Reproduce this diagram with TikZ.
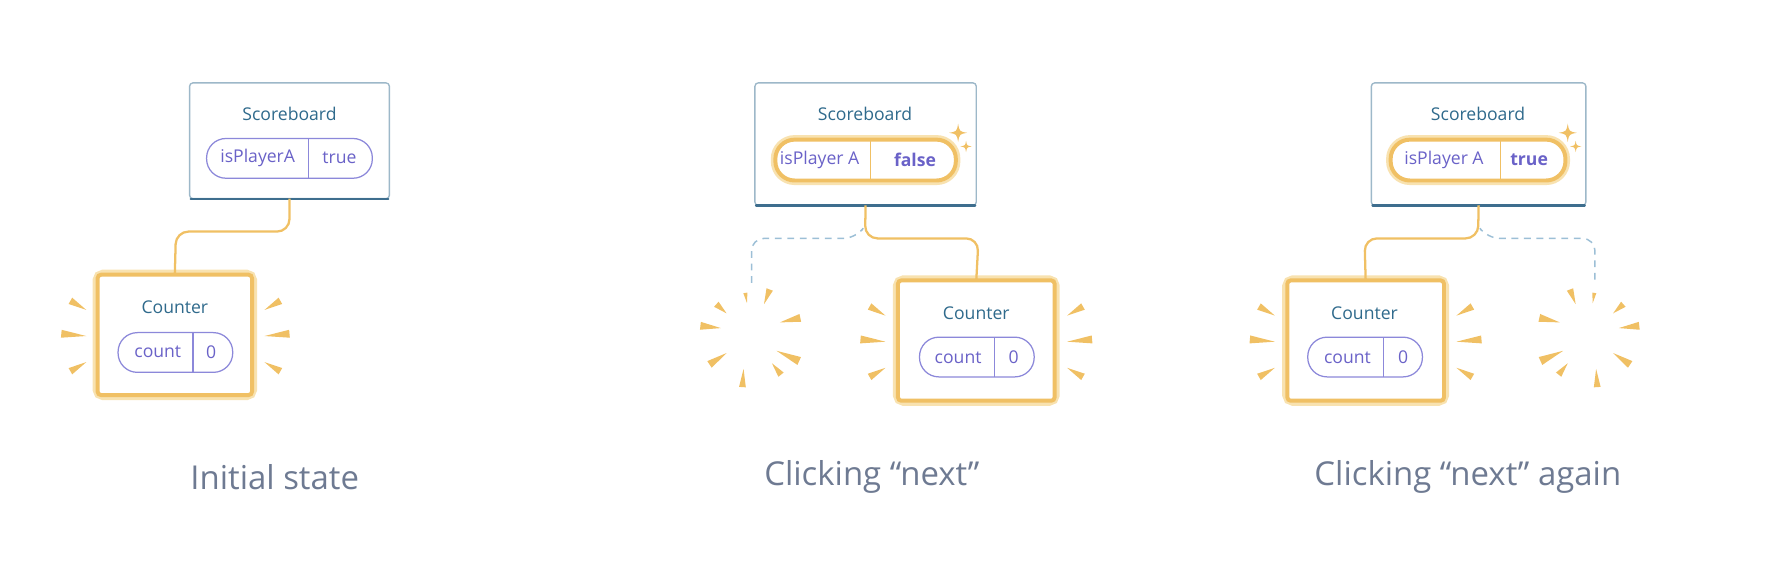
\documentclass[tikz,border=0pt]{standalone}
\usepackage{fontspec}
\usetikzlibrary{calc}
\setmainfont{Open Sans}
\begin{document}
\definecolor{sbblue}{HTML}{2F6A8C}
\definecolor{sbborder}{HTML}{9DB8C9}
\definecolor{sbdark}{HTML}{3E6E8E}
\definecolor{pilltxt}{HTML}{6A62C8}
\definecolor{pillbd}{HTML}{8C88DA}
\definecolor{org}{HTML}{F0C064}
\definecolor{glow}{HTML}{F8E2B0}
\definecolor{capgrey}{HTML}{6E7A92}
\definecolor{dash}{HTML}{9CBFD6}
\begin{tikzpicture}[x=1pt,y=-1pt,
  sbx/.style={draw=sbborder,line width=1.2pt,rounded corners=3pt,fill=white},
  cbx/.style={draw=org,line width=3.5pt,rounded corners=3pt,fill=white},
  title/.style={text=sbblue,font=\fontsize{15.5}{18}\selectfont},
  ptxt/.style={text=pilltxt,font=\fontsize{15.5}{18}\selectfont},
  pbold/.style={text=pilltxt,font=\bfseries\fontsize{15.5}{18}\selectfont},
  captxt/.style={text=capgrey,font=\fontsize{29}{34}\selectfont},
  conn/.style={draw=org,line width=2pt,rounded corners=11pt},
  dconn/.style={draw=dash,line width=1.3pt,dash pattern=on 6pt off 5pt,rounded corners=11pt}]
\useasboundingbox (0,0) rectangle (1568,504);
\newcommand{\mysb}[5]{%
  \draw[sbx] (#2,#3) rectangle (#4,#5);
  \draw[sbdark,line width=2pt,line cap=round] (#2+1,#5) -- (#4-1,#5);
  \coordinate (#1) at ({(#2+#4)/2},#5);}
\newcommand{\mycb}[5]{%
  \draw[glow,line width=9pt,rounded corners=5pt] (#2,#3) rectangle (#4,#5);
  \draw[cbx] (#2,#3) rectangle (#4,#5);
  \coordinate (#1) at ({(#2+#4)/2},#3);}
\newcommand{\mypill}[6]{%
  \ifnum#6=1
   \draw[glow,line width=8pt,rounded corners=17pt] (#1,#2) rectangle (#3,#4);
   \draw[org,line width=3.5pt,fill=white,rounded corners=17pt] (#1,#2) rectangle (#3,#4);
   \draw[org,line width=1.2pt] (#5,#2) -- (#5,#4);
  \else
   \draw[pillbd,line width=1.1pt,fill=white,rounded corners=17pt] (#1,#2) rectangle (#3,#4);
   \draw[pillbd,line width=1.1pt] (#5,#2) -- (#5,#4);
  \fi}
\newcommand{\rr}[5]{%
  \fill[org] (#1,#2) -- ($(#3,#4)!#5pt!90:(#1,#2)$) -- ($(#3,#4)!#5pt!-90:(#1,#2)$) -- cycle;}
\newcommand{\sparkle}[3]{%
  \begin{scope}[shift={(#1,#2)},scale=#3]
  \fill[org] (0,-1) .. controls (0.15,-0.15) .. (1,0) .. controls (0.15,0.15) .. (0,1) .. controls (-0.15,0.15) .. (-1,0) .. controls (-0.15,-0.15) .. (0,-1) -- cycle;
  \end{scope}}
\newcommand{\sideRays}[3]{%
  \rr{#1}{#3-22}{#1-14}{#3-30}{3.2}
  \rr{#1}{#3+1}{#1-22}{#3-1}{3.5}
  \rr{#1}{#3+24}{#1-14}{#3+32}{3.2}
  \rr{#2}{#3-22}{#2+14}{#3-30}{3.2}
  \rr{#2}{#3+1}{#2+22}{#3-1}{3.5}
  \rr{#2}{#3+24}{#2+14}{#3+32}{3.2}}
\newcommand{\burst}{%
  \rr{-3}{-32}{-4.4}{-41}{1.8}
  \rr{12}{-31}{17}{-44}{3}
  \rr{-21}{-23}{-30}{-31}{3}
  \rr{-26}{-10}{-44}{-12}{3.5}
  \rr{26}{-15}{44}{-19}{3.5}
  \rr{-21}{12}{-36}{22}{3.5}
  \rr{23}{10}{43}{19}{3.8}
  \rr{-6}{26}{-7}{42}{3}
  \rr{19}{21}{27}{31}{3}}

% ---------- Panel 1 ----------
\mysb{sb1}{167}{73}{343}{175}
\node[title] (t1) at (255,100) {Scoreboard};
\mypill{182}{122}{328}{157}{272}{0}
\node[ptxt] (p1a) at (227,139) {isPlayerA};
\node[ptxt] (p1b) at (299,139) {true};
\mycb{c1}{86}{242}{222}{348}
\node[title] (ct1) at (154,271) {Counter};
\mypill{104}{293}{205}{328}{170}{0}
\node[ptxt] (cc1) at (139,310) {count};
\node[ptxt] (cz1) at (186,310) {0};
\draw[conn] (sb1) -- (255,204) -- (155,204) -- (c1);
\sideRays{76}{233}{295}
\node[captxt] (cap1) at (242,420) {Initial state};

% ---------- Panel 2 ----------
\mysb{sb2}{665}{73}{860}{181}
\node[title] (t2) at (762,100) {Scoreboard};
\mypill{683}{123}{842}{159}{767}{1}
\node[ptxt] (p2a) at (722,141) {isPlayer A};
\node[pbold] (p2b) at (806,141) {false};
\sparkle{844}{117}{8}
\sparkle{851}{129}{5}
\mycb{c2}{791}{247}{929}{353}
\node[title] (ct2) at (860,276) {Counter};
\mypill{810}{297}{911}{332}{876}{0}
\node[ptxt] (cc2) at (844,315) {count};
\node[ptxt] (cz2) at (893,315) {0};
\coordinate (m2) at (662,252);
\draw[dconn] (759,203) -- (754,210) -- (662,210) -- (m2);
\draw[conn] (sb2) -- (762,210) -- (862,210) -- (c2);
\sideRays{780}{940}{300}
\begin{scope}[shift={(661,299)}]\burst\end{scope}
\node[captxt] (cap2) at (768,420) {Clicking “next”};

% ---------- Panel 3 ----------
\mysb{sb3}{1208}{73}{1397}{181}
\node[title] (t3) at (1302,100) {Scoreboard};
\mypill{1225}{123}{1379}{159}{1322}{1}
\node[ptxt] (p3a) at (1272,141) {isPlayer A};
\node[pbold] (p3b) at (1347,141) {true};
\sparkle{1381}{117}{8}
\sparkle{1388}{129}{5}
\mycb{c3}{1134}{247}{1272}{353}
\node[title] (ct3) at (1202,276) {Counter};
\mypill{1152}{297}{1253}{332}{1219}{0}
\node[ptxt] (cc3) at (1187,315) {count};
\node[ptxt] (cz3) at (1236,315) {0};
\coordinate (m3) at (1405,250);
\draw[dconn] (1305,203) -- (1310,210) -- (1405,210) -- (m3);
\draw[conn] (sb3) -- (1302,210) -- (1202,210) -- (c3);
\sideRays{1123}{1283}{300}
\begin{scope}[shift={(1400,299)},xscale=-1]\burst\end{scope}
\node[captxt] (cap3) at (1293,420) {Clicking “next” again};
\end{tikzpicture}
\end{document}
